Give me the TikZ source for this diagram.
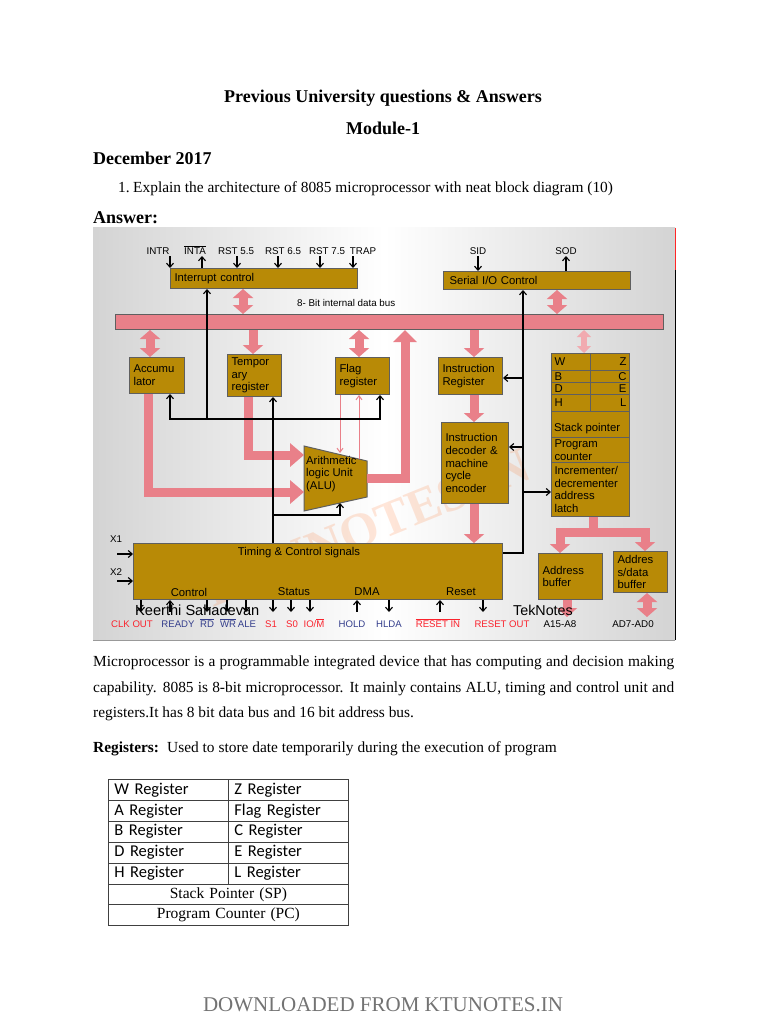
\documentclass[tikz,border=0pt]{standalone}
\usepackage{fontspec}
\setmainfont{Liberation Serif}
\newfontfamily\arialf{Liberation Sans}
\newfontfamily\calibf{Carlito}
\usetikzlibrary{arrows.meta,positioning,calc}
\definecolor{goldBox}  {RGB}{184,138,  6}
\definecolor{busPink}  {RGB}{233,128,137}
\definecolor{lightPink}{RGB}{241,170,176}
\definecolor{boxLine}  {RGB}{ 95, 95, 95}
\definecolor{sigRed}   {RGB}{250, 35, 45}
\definecolor{sigBlue}  {RGB}{ 52, 62,140}

\begin{document}
\begin{tikzpicture}[x=1pt,y=-1pt,
    blk/.style={draw=boxLine,fill=goldBox,line width=1pt,anchor=north west,
                font=\arialf\fontsize{11.3}{12.7}\selectfont,align=left,
                inner xsep=4pt,inner ysep=1pt},
    reg/.style={blk,inner ysep=0pt,inner xsep=3pt,text width=33pt},
    pk/.style={draw=busPink,line width=9pt,>={Triangle[length=9pt,width=20pt]}},
    pkl/.style={draw=lightPink,line width=6pt,>={Triangle[length=7pt,width=14pt]}},
    pkt/.style={draw=busPink,line width=1pt,>={Straight Barb[length=4pt,width=6pt]}},
    ar/.style={draw=black,line width=1.1pt,>={Straight Barb[length=4pt,width=7pt]}},
    lab/.style={font=\arialf\fontsize{9.8}{11}\selectfont,inner sep=0pt},
    sig/.style={font=\arialf\fontsize{9.6}{11}\selectfont,inner sep=0pt,anchor=base},
    inb/.style={font=\arialf\fontsize{11.3}{12.7}\selectfont,inner sep=0pt},
    txt/.style={anchor=base west,inner sep=0pt,font=\fontsize{15.4}{18}\selectfont},
    cel/.style={draw=black!75,line width=0.8pt,anchor=north west,text width=108pt,
                align=left,minimum height=20.9pt,inner xsep=6pt,inner ysep=0pt,
                font=\calibf\fontsize{16.5}{18}\selectfont},
    wide/.style={cel,text width=228pt,align=center,font=\fontsize{15.5}{18}\selectfont}]

  \useasboundingbox (0,0) rectangle (768,1024);
  \fill[white] (0,0) rectangle (768,1024);

  % page head
  \node[anchor=base,inner sep=0pt,font=\bfseries\fontsize{18}{20}\selectfont] (title) at (383,103) {Previous University questions \& Answers};
  \node[anchor=base,inner sep=0pt,font=\bfseries\fontsize{18}{20}\selectfont] (modl) at (383,135) {Module-1};
  \node[txt,font=\bfseries\fontsize{18}{20}\selectfont] (dec) at (93,165) {December 2017};
  \node[txt] (qno) at (118,193) {1.};
  \node[txt] (qtx) at (133,193) {Explain the architecture of 8085 microprocessor with neat block diagram (10)};
  \node[txt,font=\bfseries\fontsize{18}{20}\selectfont] (ans) at (93,223) {Answer:};

  % diagram background
  \shade[left color=black!17,right color=black!17,middle color=white] (93,228) rectangle (675,640);
  \draw[red!85,line width=1pt] (675,228) -- (675,270);
  \draw[black,line width=1pt] (675,270) -- (675,640);
  \draw[black!40] (93,640) -- (675,640);
  \node[rotate=22,font=\bfseries\fontsize{50}{50}\selectfont,text=orange!70!red,text opacity=0.15] (wm) at (368,528) {KTUNOTES.IN};

  % blocks
  \node[blk,text width=179pt,minimum height=20pt] (intc) at (170,268) {Interrupt control};
  \node[blk,text width=175pt,minimum height=18pt,inner xsep=6pt] (sio) at (443,271) {Serial I/O Control};
  \node[draw=boxLine,fill=busPink,line width=1pt,anchor=north west,minimum width=548pt,
        minimum height=15pt,inner sep=0pt] (bus) at (115,314) {};
  \node[lab,anchor=west] (busl) at (297,303) {8- Bit internal data bus};

  \node[blk,text width=47pt,minimum height=36pt] (acc) at (129,357) {Accumu\\lator};
  \node[blk,text width=46pt,minimum height=42pt] (tmp) at (227,354) {Tempor\\ary\\register};
  \node[blk,text width=46pt,minimum height=37pt] (flag) at (335,357) {Flag\\register};
  \node[blk,text width=56pt,minimum height=37pt] (ir) at (438,357) {Instruction\\Register};
  \node[blk,text width=59pt,minimum height=81pt] (idec) at (441,422) {Instruction\\decoder \&\\machine\\cycle\\encoder};

  \node[reg,minimum height=17pt] (w) at (551,353) {W};
  \node[reg,minimum height=17pt,align=right] (z) at (590,353) {Z};
  \node[reg,minimum height=12pt] (b) at (551,370) {B};
  \node[reg,minimum height=12pt,align=right] (c) at (590,370) {C};
  \node[reg,minimum height=12pt] (d) at (551,382) {D};
  \node[reg,minimum height=12pt,align=right] (e) at (590,382) {E};
  \node[reg,minimum height=17pt] (h) at (551,394) {H};
  \node[reg,minimum height=17pt,align=right] (l) at (590,394) {L};
  \node[reg,text width=72pt,minimum height=26pt] (sp) at (551,411) {};
  \node[inb,anchor=base west] (spt) at (554,431) {Stack pointer};
  \node[reg,text width=72pt,minimum height=25pt] (pc) at (551,437) {Program\\counter};
  \node[reg,text width=72pt,minimum height=54pt] (latch) at (551,462) {Incrementer/\\decrementer\\address\\latch};

  \node[blk,minimum width=369pt,minimum height=56pt] (tc) at (133,543) {};
  \node[inb] (tcl) at (299,553) {Timing \& Control signals};
  \node[inb] (ctl) at (189,592) {Control};
  \node[inb] (sts) at (294,592) {Status};
  \node[inb] (dma) at (367,592) {DMA};
  \node[inb] (rst) at (461,592) {Reset};

  \node[blk,text width=56pt,minimum height=46pt] (abuf) at (538,553) {Address\\buffer};
  \node[blk,text width=46pt,minimum height=41pt] (adbuf) at (613,551) {Addres\\s/data\\buffer};

  % ALU
  \coordinate (aluTL) at (304,446);
  \coordinate (aluTR) at (367,461);
  \coordinate (aluBR) at (367,497);
  \coordinate (aluBL) at (304,511);
  \coordinate (aluInT) at (304,455);
  \coordinate (aluInA) at (304,492);
  \coordinate (aluOut) at (367,478);
  \coordinate (aluTop1) at (340,453);
  \coordinate (aluTop2) at (359,459);
  \coordinate (aluBot) at (340,503);
  \draw[draw=boxLine,fill=goldBox,line width=1pt] (aluTL) -- (aluTR) -- (aluBR) -- (aluBL) -- cycle;
  \node[inb,anchor=west,align=left] (alu) at (306,474) {Arithmetic\\logic Unit\\(ALU)};

  % pink data paths
  \draw[pk,<->] (intc.south -| 243,0) -- (bus.north -| 243,0);
  \draw[pk,<->] (sio.south -| 557,0) -- (bus.north -| 557,0);
  \draw[pkl,<->] (bus.south -| 584,0) -- (w.north -| 584,0);
  \draw[pk,<->] (bus.south -| 150,0) -- (acc.north -| 150,0);
  \draw[pk,->] (bus.south -| 253,0) -- (tmp.north -| 253,0);
  \draw[pk,<->] (bus.south -| 359,0) -- (flag.north -| 359,0);
  \draw[pk,->] (bus.south -| 474,0) -- (ir.north -| 474,0);
  \draw[pk,->] (ir.south -| 474,0) -- (idec.north -| 474,0);
  \draw[pk,->] (idec.south -| 474,0) -- (tc.north -| 474,0);
  \draw[pk,->,>={Triangle[length=14pt,width=23pt]}] (tmp.south -| 248,0) |- (aluInT);
  \draw[pk,->,>={Triangle[length=14pt,width=23pt]}] (acc.south -| 148,0) |- (aluInA);
  \draw[pk,->,>={Triangle[length=12pt,width=23pt]}] (aluOut) -| (bus.south -| 405,0);
  \draw[pkt,->] (flag.south -| aluTop1) -- (aluTop1);
  \draw[pkt,->] (aluTop2) -- (flag.south -| aluTop2);
  \draw[pk,->] (latch.south -| 593,0) -- (593,532) -| (abuf.north -| 560,0);
  \draw[pk,->] (593,532) -| (adbuf.north -| 645,0);
  \draw[pk,->] (abuf.south -| 567,0) -- (567,617);
  \draw[pk,<->] (adbuf.south -| 647,0) -- (647,617);

  % control lines
  \foreach \x in {170,237,278,320,353}{
    \draw[ar,->] (\x,256) -- (intc.north -| \x,0);
  }
  \draw[ar,->] (intc.north -| 202,0) -- (202,256);
  \draw[ar,->] (478,256) -- (sio.north -| 478,0);
  \draw[ar,->] (sio.north -| 566,0) -- (566,256);
  \draw[ar,<->] (acc.south -| 170,0) |- (380,419) -- (flag.south -| 380,0);
  \draw[ar,->] (207,419) -- (intc.south -| 207,0);
  \draw[ar,->] (tc.north -| 273,0) -- (tmp.south -| 273,0);
  \draw[ar,->] (273,515) -| (aluBot);
  \draw[ar,->] (tc.north east |- 0,553) -| (sio.south -| 523,0);
  \draw[ar,->] (523,378) -- (ir.east |- 0,378);
  \draw[ar,->] (523,447) -- (idec.east |- 0,447);
  \draw[ar,->] (523,492) -- (latch.west |- 0,492);
  \draw[ar,->] (117,554) -- (tc.west |- 0,554);
  \draw[ar,->] (117,581) -- (tc.west |- 0,581);
  \foreach \x in {141,207,227,246,273,291,310,389,483}{
    \draw[ar,->] (tc.south -| \x,0) -- (\x,612);
  }
  \foreach \x in {170,357,440}{
    \draw[ar,<-] (tc.south -| \x,0) -- (\x,612);
  }

  % pin labels
  \node[lab,anchor=base] (intr) at (158,254) {INTR};
  \node[lab,anchor=base] (inta) at (195,254) {$\overline{\mbox{INTA}}$};
  \node[lab,anchor=base] (r55) at (236,254) {RST 5.5};
  \node[lab,anchor=base] (r65) at (283,254) {RST 6.5};
  \node[lab,anchor=base] (r75) at (327,254) {RST 7.5};
  \node[lab,anchor=base] (trap) at (363,254) {TRAP};
  \node[lab,anchor=base] (sid) at (478,254) {SID};
  \node[lab,anchor=base] (sod) at (566,254) {SOD};
  \node[lab] (x1) at (116,539) {X1};
  \node[lab] (x2) at (116,572) {X2};
  \foreach \x/\t/\c in {132/CLK OUT/sigRed,178/READY/sigBlue,207/{$\overline{\mbox{RD}}$}/sigBlue,
                       228/{$\overline{\mbox{WR}}$}/sigBlue,247/ALE/sigBlue,271/S1/sigRed,292/S0/sigRed,
                       314/{IO/$\overline{\mbox{M}}$}/sigRed,352/HOLD/sigBlue,389/HLDA/sigBlue,
                       438/{$\overline{\mbox{RESET IN}}$}/sigRed,502/RESET OUT/sigRed}{
    \node[sig,text=\c] (p\x) at (\x,627) {\t};
  }
  \node[lab,anchor=base] (a158) at (560,627) {A15-A8};
  \node[lab,anchor=base] (ad70) at (633,627) {AD7-AD0};
  \node[font=\arialf\fontsize{14.6}{16}\selectfont,inner sep=0pt,anchor=west] (auth) at (135,610) {Keerthi Sahadevan};
  \node[font=\arialf\fontsize{14.3}{16}\selectfont,inner sep=0pt] (tekn) at (543,610) {TekNotes};

  % text below
  \node[anchor=north west,inner sep=0pt,text width=581pt,align=justify,
        font=\fontsize{15.4}{25.5}\selectfont] (para) at (93,656)
    {Microprocessor is a programmable integrated device that has computing and decision making\linebreak
     capability. 8085 is 8-bit microprocessor. It mainly contains ALU, timing and control unit and\linebreak
     registers.It has 8 bit data bus and 16 bit address bus.};
  \node[txt,font=\bfseries\fontsize{15.4}{18}\selectfont] (regt) at (93,752) {Registers:};
  \node[txt] (regd) at (167,752) {Used to store date temporarily during the execution of program};

  % register table
  \foreach \i/\l/\r in {0/W Register/Z Register,1/A Register/Flag Register,2/B Register/C Register,
                        3/D Register/E Register,4/H Register/L Register}{
    \node[cel] (tl\i) at (108,{779+20.9*\i}) {\l};
    \node[cel] (tr\i) at (228,{779+20.9*\i}) {\r};
  }
  \node[wide] (tsp) at (108,883.5) {Stack Pointer (SP)};
  \node[wide] (tpc) at (108,904.4) {Program Counter (PC)};

  \node[font=\fontsize{21}{22}\selectfont,text=black!55] (foot) at (383,1005) {DOWNLOADED FROM KTUNOTES.IN};
\end{tikzpicture}
\end{document}
